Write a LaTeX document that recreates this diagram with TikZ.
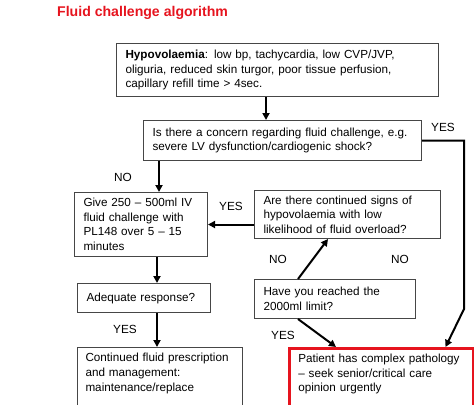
\documentclass[tikz,border=0pt]{standalone}
\usepackage{fontspec}
\setmainfont{Liberation Sans}
\usetikzlibrary{arrows.meta}
\definecolor{algred}{RGB}{230,20,30}
\definecolor{boxgray}{RGB}{70,70,70}

\begin{document}
\begin{tikzpicture}[x=1bp,y=-1bp,
  box/.style={draw=boxgray,line width=1bp,anchor=north west,inner xsep=9bp,
    align=left,font=\fontsize{11.7bp}{14.6bp}\selectfont},
  lbl/.style={font=\fontsize{11.8bp}{14bp}\selectfont,inner sep=0pt},
  arr/.style={line width=2bp,-{Triangle[length=7bp,width=7bp]}}]%
% fluid challenge flowchart, coordinates in px from the top left corner
\useasboundingbox (0,0) rectangle (474,404);
\clip (0,0) rectangle (474,404);
\node[anchor=west,inner sep=0pt,text=algred,
  font=\fontsize{14.1bp}{17bp}\selectfont\bfseries] (title) at (57,13)
  {Fluid challenge algorithm};
\node[box,text width=304bp,minimum height=53bp] (hypo) at (116,43)
  {\textbf{Hypovolaemia}: low bp, tachycardia, low CVP/JVP,\\
   oliguria, reduced skin turgor, poor tissue perfusion,\\
   capillary refill time > 4sec.};
\node[box,text width=260bp,minimum height=40bp] (concern) at (143,120)
  {Is there a concern regarding fluid challenge, e.g.\\
   severe LV dysfunction/cardiogenic shock?};
\node[box,text width=115bp,minimum height=64bp] (give) at (74,192)
  {Give 250 -- 500ml IV\\ fluid challenge with\\ PL148 over 5 -- 15\\ minutes};
\node[box,text width=168bp,minimum height=48bp] (signs) at (254,190)
  {Are there continued signs of\\ hypovolaemia with low\\
   likelihood of fluid overload?};
\node[box,text width=115bp,minimum height=29bp] (adequate) at (77,283)
  {Adequate response?};
\node[box,text width=143bp,minimum height=39bp] (limit) at (254,279)
  {Have you reached the\\ 2000ml limit?};
\node[box,inner xsep=8bp,text width=149bp,inner ysep=6bp,text depth=50bp]
  (continued) at (77,347)
  {Continued fluid prescription\\ and management:\\ maintenance/replace};
\node[box,draw=algred,line width=2.5bp,text width=166bp,inner ysep=6bp,
  text depth=50bp] (complex) at (288,347)
  {Patient has complex pathology\\ -- seek senior/critical care\\ opinion urgently};
\coordinate (rbend) at (464,309);
\node[lbl] (yes1) at (443,127) {YES};
\node[lbl] (no1) at (123,177) {NO};
\node[lbl] (yes2) at (231,206) {YES};
\node[lbl] (no2) at (278,259) {NO};
\node[lbl] (no3) at (400,259) {NO};
\node[lbl] (yes3) at (125,329) {YES};
\node[lbl] (yes4) at (283,335) {YES};
\draw[arr] ([xshift=150bp]hypo.south west) -- ([xshift=150bp]hypo.south west |- concern.north);
\draw[arr] ([xshift=16bp]concern.south west) -- ([xshift=16bp]concern.south west |- give.north);
\draw[arr] (signs.west |- give.east) -- (give.east);
\draw[arr] ([xshift=83bp]give.south west) -- ([xshift=83bp]give.south west |- adequate.north);
\draw[arr] ([xshift=80bp]adequate.south west) -- ([xshift=80bp]adequate.south west |- continued.north);
\draw[arr] ([xshift=44bp]limit.north west) -- ([xshift=74bp]signs.south west);
\draw[arr] ([xshift=44bp]limit.south west) -- ([xshift=48bp]complex.north west);
\draw[arr] (concern.east) -- (concern.east -| rbend) -- (rbend)
  -- ([xshift=-29bp]complex.north east);
\end{tikzpicture}
\end{document}
